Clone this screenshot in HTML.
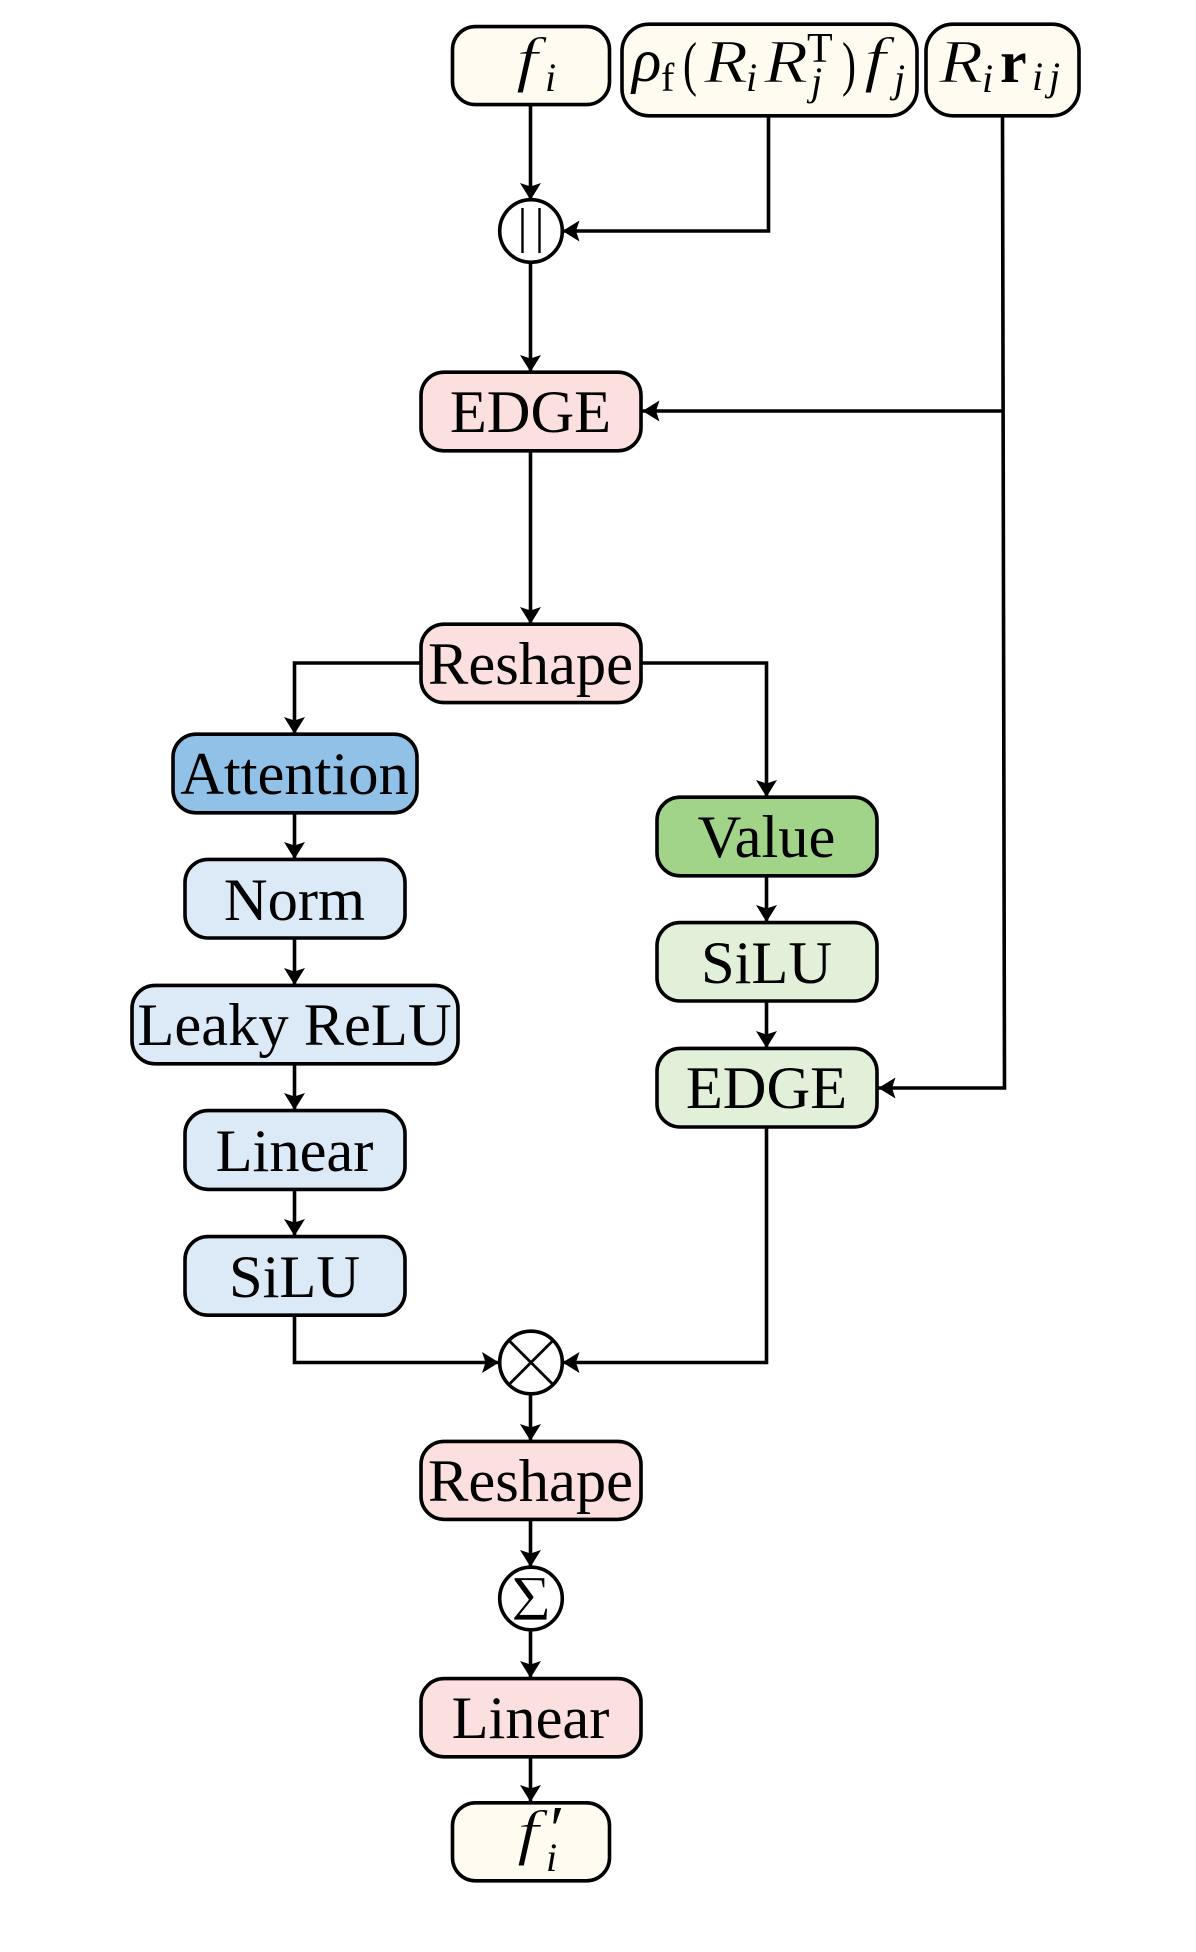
<!DOCTYPE html>
<html>
<head>
<meta charset="utf-8">
<style>
html,body{margin:0;padding:0;background:#fff;}
svg{display:block;}
text{font-family:"Liberation Serif",serif;fill:#000;}
.t{font-size:60.5px;text-anchor:middle;}
.m{font-style:italic;font-size:61px;stroke:#fffbf0;stroke-width:0.9px;}
.s{font-style:italic;font-size:40px;}
.b{stroke:#000;stroke-width:3.6;}
.l{fill:none;stroke:#000;stroke-width:3.6;}
</style>
</head>
<body>
<svg width="1196" height="1952" viewBox="0 0 1196 1952" xmlns="http://www.w3.org/2000/svg">
<defs>
<path id="ad" d="M0 0 L-10.5 -17 L0 -13.5 L10.5 -17 Z" fill="#000"/>
</defs>
<rect width="1196" height="1952" fill="#fff"/>

<!-- connectors -->
<path class="l" d="M530.5 106V199"/>
<path class="l" d="M768.5 116V231H563"/>
<path class="l" d="M530.5 263V371"/>
<path class="l" d="M1002.5 116L1004.5 1088H877"/>
<path class="l" d="M1003 411H642"/>
<path class="l" d="M530.5 451V623"/>
<path class="l" d="M420 663H294.5V733"/>
<path class="l" d="M641 663H766.5V796"/>
<path class="l" d="M294.5 812V858"/>
<path class="l" d="M294.5 937V984"/>
<path class="l" d="M294.5 1063V1109"/>
<path class="l" d="M294.5 1189V1235"/>
<path class="l" d="M766.5 875V922"/>
<path class="l" d="M766.5 1000V1047"/>
<path class="l" d="M294.5 1315V1362.5H498"/>
<path class="l" d="M766.5 1127V1362.5H563"/>
<path class="l" d="M530.5 1394V1440"/>
<path class="l" d="M530.5 1520V1566"/>
<path class="l" d="M530.5 1631V1678"/>
<path class="l" d="M530.5 1757V1802"/>

<!-- boxes -->
<rect class="b" x="452.5" y="26.6" width="157" height="78" rx="23" fill="#fffbf0"/>
<rect class="b" x="622" y="24.2" width="295" height="91.6" rx="27" fill="#fffbf0"/>
<rect class="b" x="926" y="24.2" width="153" height="91.6" rx="27" fill="#fffbf0"/>
<rect class="b" x="421" y="372.2" width="220" height="78.6" rx="23" fill="#fce0e0"/>
<rect class="b" x="421" y="624.2" width="220" height="78.4" rx="23" fill="#fce0e0"/>
<rect class="b" x="173" y="734.2" width="244" height="78.6" rx="23" fill="#92c1e8"/>
<rect class="b" x="185" y="859.4" width="220" height="78.6" rx="23" fill="#dce9f6"/>
<rect class="b" x="132" y="985.4" width="326" height="78.4" rx="23" fill="#dce9f6"/>
<rect class="b" x="185" y="1110.6" width="220" height="78.8" rx="23" fill="#dce9f6"/>
<rect class="b" x="185" y="1236.6" width="220" height="78.6" rx="23" fill="#dce9f6"/>
<rect class="b" x="657" y="797.2" width="220" height="78.6" rx="23" fill="#a1d488"/>
<rect class="b" x="657" y="922.6" width="220" height="78.4" rx="23" fill="#e2efd9"/>
<rect class="b" x="657" y="1048.4" width="220" height="78.6" rx="23" fill="#e2efd9"/>
<rect class="b" x="421" y="1441.4" width="220" height="78" rx="23" fill="#fce0e0"/>
<rect class="b" x="421" y="1678.6" width="220" height="78.2" rx="23" fill="#fce0e0"/>
<rect class="b" x="452.5" y="1802.8" width="157" height="78" rx="23" fill="#fffbf0"/>

<!-- circles -->
<circle class="b" cx="531" cy="231" r="31.3" fill="#fff"/>
<path d="M522.5 208V253M539.5 208V253" stroke="#000" stroke-width="2.4" fill="none"/>
<circle class="b" cx="531" cy="1362.5" r="31.3" fill="#fff"/>
<path d="M509 1340.5L553 1384.5M553 1340.5L509 1384.5" stroke="#000" stroke-width="2.8" fill="none"/>
<circle class="b" cx="531" cy="1598.5" r="31.3" fill="#fff"/>
<text transform="translate(531,1620) scale(1.14,1.08)" font-size="60" text-anchor="middle" stroke="#fff" stroke-width="0.8">Σ</text>

<!-- arrowheads -->
<use href="#ad" transform="translate(530.5,200)"/>
<use href="#ad" transform="translate(562.5,231) rotate(90)"/>
<use href="#ad" transform="translate(530.5,372)"/>
<use href="#ad" transform="translate(642.5,411) rotate(90)"/>
<use href="#ad" transform="translate(530.5,624)"/>
<use href="#ad" transform="translate(294.5,734)"/>
<use href="#ad" transform="translate(766.5,797)"/>
<use href="#ad" transform="translate(294.5,859)"/>
<use href="#ad" transform="translate(294.5,985)"/>
<use href="#ad" transform="translate(294.5,1110)"/>
<use href="#ad" transform="translate(294.5,1236)"/>
<use href="#ad" transform="translate(766.5,922)"/>
<use href="#ad" transform="translate(766.5,1048)"/>
<use href="#ad" transform="translate(878.5,1088) rotate(90)"/>
<use href="#ad" transform="translate(499,1362.5) rotate(-90)"/>
<use href="#ad" transform="translate(562.5,1362.5) rotate(90)"/>
<use href="#ad" transform="translate(530.5,1441)"/>
<use href="#ad" transform="translate(530.5,1567)"/>
<use href="#ad" transform="translate(530.5,1678)"/>
<use href="#ad" transform="translate(530.5,1802)"/>

<!-- labels -->
<text class="t" x="530.5" y="432">EDGE</text>
<text class="t" x="530.5" y="684">Reshape</text>
<text class="t" x="294.5" y="794">Attention</text>
<text class="t" x="294.5" y="920">Norm</text>
<text class="t" x="294.5" y="1045">Leaky ReLU</text>
<text class="t" x="294.5" y="1171">Linear</text>
<text class="t" x="294.5" y="1297">SiLU</text>
<text class="t" x="766.5" y="857">Value</text>
<text class="t" x="766.5" y="983">SiLU</text>
<text class="t" x="766.5" y="1108">EDGE</text>
<text class="t" x="530.5" y="1501">Reshape</text>
<text class="t" x="530.5" y="1738">Linear</text>

<!-- math -->
<text class="m" x="516" y="80" textLength="22" lengthAdjust="spacingAndGlyphs">f</text>
<text class="s" x="545" y="91">i</text>

<text class="m" x="632" y="81" style="stroke:none">ρ</text>
<text x="661" y="91" font-size="40">f</text>
<text transform="translate(683,84) scale(1.05,1.5)" font-size="40">(</text>
<text class="m" x="704" y="82" textLength="44" lengthAdjust="spacingAndGlyphs">R</text>
<text class="s" x="746" y="91">i</text>
<text class="m" x="764" y="82" textLength="44" lengthAdjust="spacingAndGlyphs">R</text>
<text x="807" y="62" font-size="42">T</text>
<text class="s" x="811" y="95">j</text>
<text transform="translate(842,84) scale(1.05,1.5)" font-size="40">)</text>
<text class="m" x="864" y="80" textLength="22" lengthAdjust="spacingAndGlyphs">f</text>
<text class="s" x="894" y="92">j</text>

<text class="m" x="939" y="82" textLength="44" lengthAdjust="spacingAndGlyphs">R</text>
<text class="s" x="982" y="92">i</text>
<text x="1000" y="82" font-size="60" font-weight="bold">r</text>
<text class="s" x="1032" y="90">i</text>
<text class="s" x="1049" y="90">j</text>

<text class="m" x="517" y="1853" textLength="22" lengthAdjust="spacingAndGlyphs">f</text>
<text class="s" x="546" y="1871">i</text>
<text x="546" y="1851" font-size="66" font-style="italic">′</text>
</svg>
</body>
</html>
